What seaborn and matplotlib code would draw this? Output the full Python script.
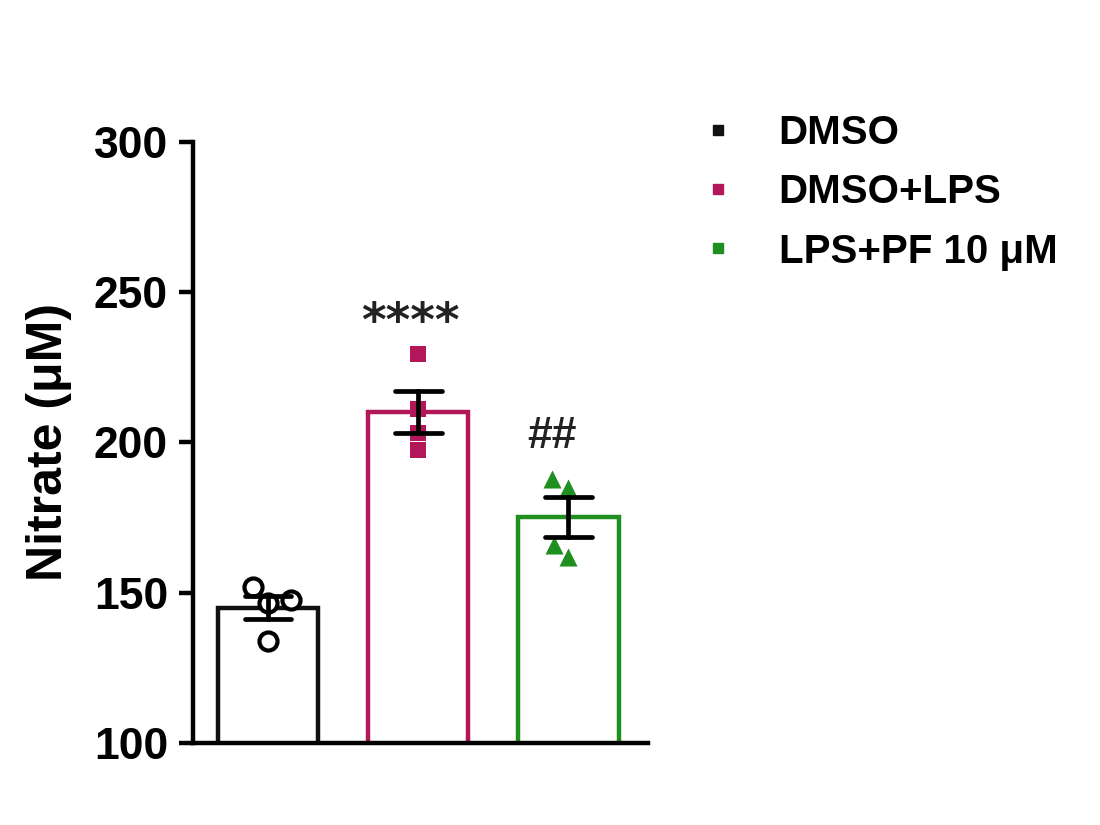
import numpy as np
import pandas as pd
import matplotlib
matplotlib.use("Agg")
import matplotlib.pyplot as plt
from matplotlib.lines import Line2D
import seaborn as sns

# ---- data ----
groups = ["DMSO", "DMSO+LPS", "LPS+PF 10 μM"]
dmso_vals = [147.5, 146.5, 152.0, 134.0]
lps_vals = [229.5, 211.0, 203.0, 197.5]
pf_vals = [188.0, 185.0, 166.0, 162.0]
annotations = {"DMSO+LPS": "****", "LPS+PF 10 μM": "##"}
y_ticks = [100, 150, 200, 250, 300]
y_label = "Nitrate (μM)"

colors = {"DMSO": "#111111", "DMSO+LPS": "#B3175A", "LPS+PF 10 μM": "#1F8F1F"}
markers = {"DMSO": "o", "DMSO+LPS": "s", "LPS+PF 10 μM": "^"}

df = pd.DataFrame({
    "group": [groups[0]] * len(dmso_vals) + [groups[1]] * len(lps_vals) + [groups[2]] * len(pf_vals),
    "value": dmso_vals + lps_vals + pf_vals,
})

sns.set_style("ticks")
plt.rcParams["font.family"] = ["Liberation Sans", "DejaVu Sans"]
plt.rcParams["font.weight"] = "bold"
plt.rcParams["text.color"] = "black"
plt.rcParams["axes.labelcolor"] = "black"
plt.rcParams["ytick.color"] = "black"
plt.rcParams["xtick.color"] = "black"

fig = plt.figure(figsize=(11, 8.25), dpi=100)
ax = fig.add_axes([0.1755, 0.0994, 0.4136, 0.7285])

# bars (outline only)
sns.barplot(data=df, x="group", y="value", hue="group", order=groups, hue_order=groups,
            palette=colors, fill=False, width=0.667, linewidth=3.2, errorbar=None,
            legend=False, ax=ax, zorder=2)

# individual points
sizes = {"DMSO": 13, "DMSO+LPS": 11.5, "LPS+PF 10 μM": 13}
for g in groups:
    sub = df[df["group"] == g]
    if g == "DMSO":
        sns.swarmplot(data=sub, x="group", y="value", order=groups, color="white",
                      edgecolor="black", linewidth=3, marker="o", size=sizes[g], ax=ax, zorder=3)
    else:
        sns.swarmplot(data=sub, x="group", y="value", order=groups, color=colors[g],
                      marker=markers[g], size=sizes[g], linewidth=0, ax=ax, zorder=3)

# mean +/- SEM error bars
sns.pointplot(data=df, x="group", y="value", order=groups, errorbar="se", color="black",
              capsize=0.31, marker="", linestyle="none", err_kws={"linewidth": 3.4},
              ax=ax, zorder=4)

# significance annotations
for g, txt in annotations.items():
    i = groups.index(g)
    top = df[df["group"] == g]["value"].max()
    if txt.startswith("*"):
        ax.text(i - 0.05, top + 10, txt, ha="center", va="center", fontsize=34,
                fontweight="bold", family="DejaVu Sans", color="#222222")
    else:
        ax.text(i - 0.11, top + 14, txt, ha="center", va="center", fontsize=32,
                fontweight="bold", color="#222222")

ax.set_xlim(-0.5, 2.53)
ax.set_ylim(100, 300)
ax.set_yticks(y_ticks)
ax.set_yticklabels([str(t) for t in y_ticks], fontsize=32, fontweight="bold")
ax.set_xticks([])
ax.set_xlabel("")
ax.set_ylabel(y_label, fontsize=36, fontweight="bold", labelpad=16)
for s in ["top", "right"]:
    ax.spines[s].set_visible(False)
for s in ["left", "bottom"]:
    ax.spines[s].set_linewidth(3.2)
    ax.spines[s].set_color("black")
ax.tick_params(axis="y", length=10, width=3.2, pad=8, color="black")
ax.set_facecolor("white")

handles = [Line2D([0], [0], marker="s", linestyle="none", markersize=7,
                  markerfacecolor=colors[g], markeredgecolor=colors[g]) for g in groups]
fig.legend(handles, groups, loc="upper left", bbox_to_anchor=(0.642, 0.862),
           frameon=False, prop={"weight": "bold", "size": 29}, handlelength=0.6,
           handletextpad=1.2, labelspacing=0.53, borderpad=0, borderaxespad=0)

fig.savefig("out.png", dpi=100, facecolor="white")
